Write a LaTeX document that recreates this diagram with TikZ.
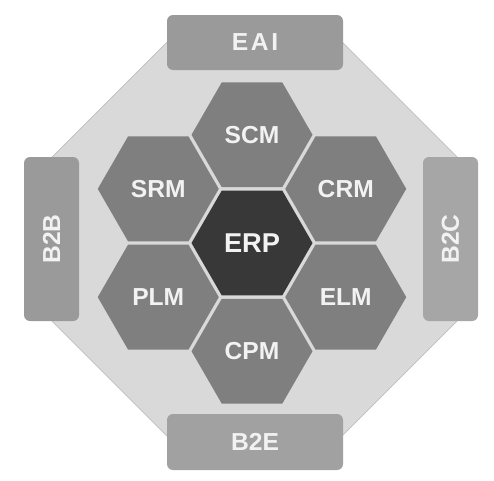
\documentclass[tikz,border=0pt]{standalone}
\usepackage{fontspec}
\setmainfont{Liberation Sans}
\usetikzlibrary{shapes.geometric}
\definecolor{octfill}{HTML}{D9D9D9}
\definecolor{hexfill}{HTML}{7F7F7F}
\definecolor{erpfill}{HTML}{383838}
\definecolor{boxfill}{HTML}{9A9A9A}
\definecolor{txtcol}{HTML}{F2F2F2}
\tikzset{
    hexa/.style={regular polygon, regular polygon sides=6, minimum size=2.42cm,
        inner sep=0pt, fill=hexfill, text=txtcol,
        font=\fontsize{14}{16}\selectfont\bfseries},
    sidebox/.style={rectangle, rounded corners=0.12cm, fill=boxfill, text=txtcol,
        inner sep=0pt, font=\fontsize{14}{16}\selectfont\bfseries}
}

\begin{document}
\begin{tikzpicture}
    \useasboundingbox (0, 0) rectangle (9.88, 9.6);
    % background octagon
    \filldraw[fill=octfill, draw=octfill!88!black, line width=0.4pt]
        (3.38, 8.8) -- (6.8, 8.8) -- (9.14, 6.46) -- (9.14, 3.18)
        -- (6.8, 0.84) -- (3.38, 0.84) -- (1.04, 3.18) -- (1.04, 6.46) -- cycle;
    % hexagons
    \node[hexa, fill=erpfill, font=\fontsize{15.5}{18}\selectfont\bfseries] (erp) at (5.04, 4.74) {ERP};
    \node[hexa] (scm) at (5.04, 6.905) {SCM};
    \node[hexa] (cpm) at (5.04, 2.575) {CPM};
    \node[hexa] (srm) at (3.165, 5.8225) {SRM};
    \node[hexa] (crm) at (6.915, 5.8225) {CRM};
    \node[hexa] (plm) at (3.165, 3.6575) {PLM};
    \node[hexa] (elm) at (6.915, 3.6575) {ELM};
    % outer boxes
    \node[sidebox, minimum width=3.52cm, minimum height=1.1cm] (eai) at (5.1, 8.75) {E\kern1.5pt A\kern1.5pt I};
    \node[sidebox, minimum width=3.52cm, minimum height=1.12cm, fill=boxfill!93!white] (b2e) at (5.1, 0.76) {B2E};
    \node[sidebox, minimum width=3.28cm, minimum height=1.1cm, rotate=90] (b2b) at (1.03, 4.82) {B2B};
    \node[sidebox, minimum width=3.28cm, minimum height=1.1cm, rotate=90, fill=boxfill!88!white] (b2c) at (9.01, 4.82) {B2C};
\end{tikzpicture}
\end{document}
